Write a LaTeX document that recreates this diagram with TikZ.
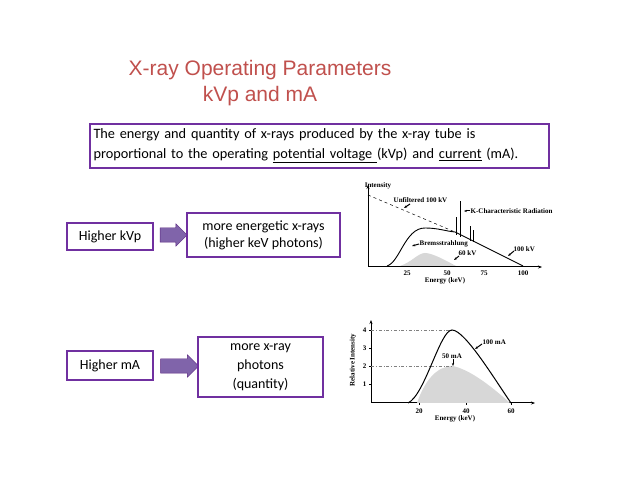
\documentclass[tikz,border=0pt]{standalone}
\usepackage{fontspec}
\setmainfont{Carlito}
\newfontfamily\arialf{Liberation Sans}
\newfontfamily\timesf{Liberation Serif}
\usetikzlibrary{shapes.arrows,arrows.meta}
\definecolor{ttl}{RGB}{192,80,77}
\definecolor{pbord}{RGB}{112,48,160}
\definecolor{parr}{RGB}{128,100,170}
\definecolor{greyfill}{RGB}{215,215,215}
\tikzset{
 pbox/.style={draw=pbord,line width=1.2pt,align=center,font=\fontsize{14}{17}\selectfont,inner sep=3pt},
 blockarr/.style={single arrow,draw=pbord!80!black,fill=parr,minimum height=#1,inner xsep=0pt,inner ysep=7pt,single arrow head extend=4pt,single arrow tip angle=90},
 gt/.style={font=\timesf\bfseries\fontsize{7}{8}\selectfont,inner sep=0.5pt},
 ax/.style={line width=1pt,-{Stealth[length=4pt]}},
 parrow/.style={-{Stealth[length=3pt]},line width=1pt}
}
\begin{document}
\begin{tikzpicture}[x=1pt,y=-1pt]
\useasboundingbox (0,0) rectangle (638,494);
\node[ttl,font=\arialf\fontsize{21}{24}\selectfont] (t1) at (260,70) {X-ray Operating Parameters};
\node[ttl,font=\arialf\fontsize{21}{24}\selectfont] (t2) at (260,96) {kVp and mA};
\node[draw=pbord,line width=1.2pt,align=left,minimum width=459pt,minimum height=44pt,text width=452pt,inner sep=3pt,font=\fontsize{14.3}{20}\selectfont] (tb) at (319.5,146) {The energy and quantity of x-rays produced by the x-ray tube is\\proportional to the operating \underline{potential voltage }(kVp) and \underline{current} (mA).};
\node[pbox,minimum width=86pt,minimum height=27pt] (hk) at (110,236.5) {Higher kVp};
\node[blockarr=27pt] (a1) at (170,235) {};
\node[pbox,minimum width=153pt,minimum height=44pt] (mk) at (263.5,235) {more energetic x-rays\\(higher keV photons)};
\node[pbox,minimum width=86pt,minimum height=29pt] (hm) at (110,365.5) {Higher mA};
\node[blockarr=38pt] (a2) at (176,366) {};
\node[pbox,minimum width=125pt,minimum height=60pt,font=\fontsize{14}{19}\selectfont] (mm) at (260.5,367) {more x-ray\\photons\\(quantity)};
% graph 1
\coordinate (o1) at (368,267);
\draw[ax] (o1) -- (368,185);
\draw[ax] (o1) -- (542,267);
\fill[greyfill] (400,266) .. controls (412,262) and (418,253) .. (425,253) .. controls (432,253) and (445,260) .. (456,266) -- cycle;
\draw[line width=0.5pt,dashed] (368,195) -- (455,232);
\draw[line width=0.9pt] (387,266) .. controls (400,262) and (405,228) .. (425,228) .. controls (438,228) and (445,231) .. (455,232) -- (523,266);
\draw[line width=1pt] (456,235) -- (456,217);
\draw[line width=1pt] (460,237) -- (460,201);
\draw[line width=1pt] (470,241) -- (470,226);
\draw[line width=1pt] (473,242) -- (473,230);
\foreach \x/\l in {407/25,447/50,484/75,523/100}{\node[gt] at (\x,273) {\l};}
\node[gt] (i1) at (378,186) {Intensity};
\node[gt] (e1) at (445,281) {Energy (keV)};
\node[gt,anchor=west] (u1) at (393,200) {Unfiltered 100 kV};
\coordinate (u1a) at (410,204); \coordinate (u1b) at (404,208);
\draw[parrow] (u1a) -- (u1b);
\node[gt,anchor=west] (kc) at (470,211) {K-Characteristic Radiation};
\coordinate (kca) at (470,211); \coordinate (kcb) at (464,211);
\draw[parrow] (kca) -- (kcb);
\node[gt,anchor=west] (br) at (419,244) {Bremsstrahlung};
\coordinate (bra) at (419,244); \coordinate (brb) at (412,246);
\draw[parrow] (bra) -- (brb);
\node[gt,anchor=west] (k60) at (458,253) {60 kV};
\coordinate (k60a) at (459,256); \coordinate (k60b) at (454,260);
\draw[parrow] (k60a) -- (k60b);
\node[gt,anchor=west] (k100) at (513,249) {100 kV};
\coordinate (k100a) at (514,251); \coordinate (k100b) at (508,256);
\draw[parrow] (k100a) -- (k100b);
% graph 2
\coordinate (o2) at (371,403);
\draw[ax] (o2) -- (371,320);
\draw[ax] (o2) -- (535,403);
\fill[greyfill] (417,403) .. controls (425,380) and (437,366) .. (453,366) .. controls (470,370) and (490,385) .. (510,403) -- cycle;
\draw[line width=0.5pt,gray,dash dot] (371,330) -- (452,330);
\draw[line width=0.5pt,gray,dash dot] (371,366) -- (453,366);
\draw[line width=1pt] (408,403) .. controls (425,395) and (440,330) .. (452,330) .. controls (465,330) and (495,380) .. (511,403);
\foreach \y/\l in {384/1,366/2,348/3,330/4}{\draw (369,\y) -- (371,\y); \node[gt,anchor=east] at (367,\y) {\l};}
\foreach \x/\l in {419/20,466/40,511/60}{\draw (\x,403) -- (\x,405); \node[gt] at (\x,411) {\l};}
\node[gt,rotate=90] (ri) at (353,360) {Relative Intensity};
\node[gt] (e2) at (455,419) {Energy (keV)};
\node[gt,anchor=west] (m100) at (482,342) {100 mA};
\coordinate (m100a) at (482,344); \coordinate (m100b) at (475,349);
\draw[parrow] (m100a) -- (m100b);
\node[gt] (m50) at (452,356) {50 mA};
\coordinate (m50a) at (453,359); \coordinate (m50b) at (453,366);
\draw[parrow] (m50a) -- (m50b);
\end{tikzpicture}
\end{document}
